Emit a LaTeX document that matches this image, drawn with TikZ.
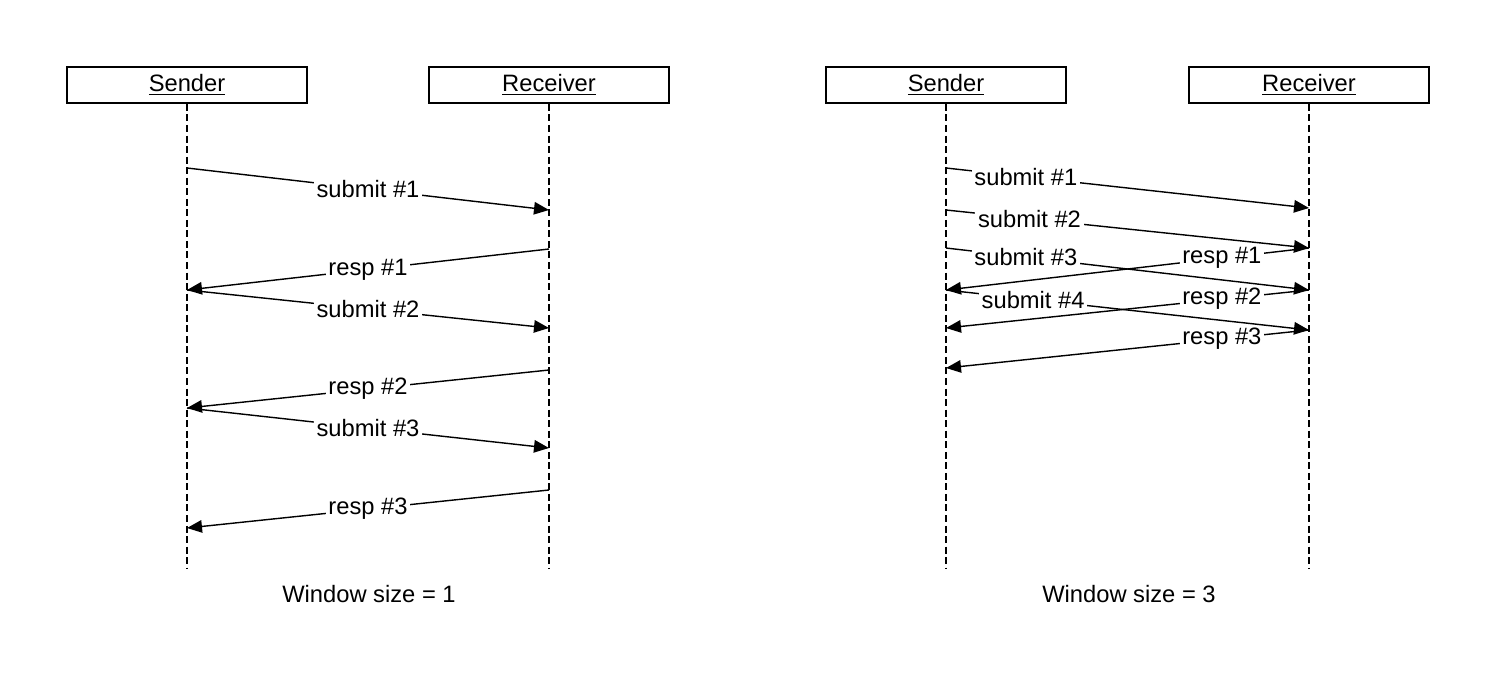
\documentclass[tikz,border=0pt]{standalone}
\usepackage{fontspec}
\setmainfont{Liberation Sans}
\usepackage{tikz}
\usetikzlibrary{arrows.meta}
\tikzstyle{rolebox}=[black, draw=black, line width=1pt, shape=rectangle, fill=white, minimum width=4.8cm, minimum height=0.72cm, inner sep=0pt, font=\fontsize{13.5}{15}\selectfont]
\tikzstyle{lifeline}=[black, line width=0.75pt, dash pattern=on 4pt off 2pt]
\tikzstyle{msg}=[-{Triangle[length=0.3cm, width=0.25cm]}, line width=0.8pt, color=black]
\tikzstyle{msglabel}=[fill=white, inner sep=1.5pt, font=\fontsize{13.5}{15}\selectfont]
\tikzstyle{caption}=[inner sep=0pt, font=\fontsize{13.5}{15}\selectfont]

\begin{document}
\begin{tikzpicture}[x=0.02cm, y=-0.02cm]
\useasboundingbox (0,0) rectangle (1502,694);

% window size = 1
\node [rolebox] (sendA) at (187,85) {\underline{Sender}};
\node [rolebox] (recvA) at (549,85) {\underline{Receiver}};
\coordinate (sendAend) at (187,568);
\coordinate (recvAend) at (549,568);
\draw [lifeline] (sendA) -- (sendAend);
\draw [lifeline] (recvA) -- (recvAend);
\coordinate (sA1) at (187,168);
\coordinate (rA1) at (549,210);
\coordinate (rA2) at (549,249);
\coordinate (sA2) at (187,290);
\coordinate (rA3) at (549,328);
\coordinate (rA4) at (549,370);
\coordinate (sA3) at (187,408);
\coordinate (rA5) at (549,448);
\coordinate (rA6) at (549,490);
\coordinate (sA4) at (187,528);
\node [caption] (capA) at (369,594) {Window size = 1};

\draw [msg] (sA1) -- node [msglabel] {submit \#1} (rA1);
\draw [msg] (rA2) -- node [msglabel] {resp \#1} (sA2);
\draw [msg] (sA2) -- node [msglabel] {submit \#2} (rA3);
\draw [msg] (rA4) -- node [msglabel] {resp \#2} (sA3);
\draw [msg] (sA3) -- node [msglabel] {submit \#3} (rA5);
\draw [msg] (rA6) -- node [msglabel] {resp \#3} (sA4);

% window size = 3
\node [rolebox] (sendB) at (946,85) {\underline{Sender}};
\node [rolebox] (recvB) at (1309,85) {\underline{Receiver}};
\coordinate (sendBend) at (946,568);
\coordinate (recvBend) at (1309,568);
\draw [lifeline] (sendB) -- (sendBend);
\draw [lifeline] (recvB) -- (recvBend);
\coordinate (sB1) at (946,168);
\coordinate (sB2) at (946,210);
\coordinate (sB3) at (946,248);
\coordinate (sB4) at (946,290);
\coordinate (sB5) at (946,328);
\coordinate (sB6) at (946,368);
\coordinate (rB1) at (1309,208);
\coordinate (rB2) at (1309,248);
\coordinate (rB3) at (1309,290);
\coordinate (rB4) at (1309,330);
\node [caption] (capB) at (1129,594) {Window size = 3};

\draw [msg] (sB1) -- node [msglabel, pos=0.22] {submit \#1} (rB1);
\draw [msg] (sB2) -- node [msglabel, pos=0.23] {submit \#2} (rB2);
\draw [msg] (sB3) -- node [msglabel, pos=0.22] {submit \#3} (rB3);
\draw [msg] (rB2) -- node [msglabel, pos=0.24] {resp \#1} (sB4);
\draw [msg] (sB4) -- node [msglabel, pos=0.24] {submit \#4} (rB4);
\draw [msg] (rB3) -- node [msglabel, pos=0.24] {resp \#2} (sB5);
\draw [msg] (rB4) -- node [msglabel, pos=0.24] {resp \#3} (sB6);
\end{tikzpicture}
\end{document}
